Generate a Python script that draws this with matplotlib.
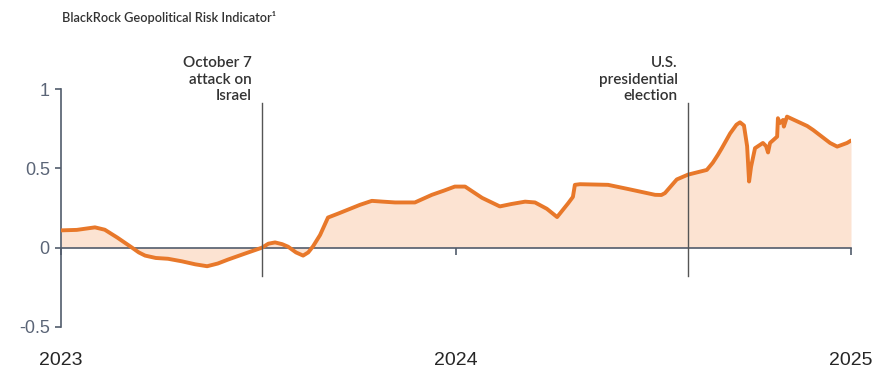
import matplotlib
matplotlib.use('Agg')
import matplotlib.pyplot as plt

# x is position in years since start of 2023 (as laid out on the chart)
pos = [0.0, 0.04, 0.086, 0.111, 0.143, 0.180, 0.197, 0.213, 0.240, 0.271, 0.306, 0.340, 0.370,
       0.397, 0.423, 0.465, 0.509, 0.525, 0.542, 0.560, 0.575, 0.595, 0.613, 0.626, 0.638,
       0.656, 0.676, 0.701, 0.727, 0.757, 0.787, 0.815, 0.846, 0.896, 0.939, 0.970, 0.997,
       1.023, 1.066, 1.111, 1.140, 1.175, 1.200, 1.230, 1.256, 1.284, 1.296, 1.301, 1.314,
       1.385, 1.435, 1.504, 1.520, 1.529, 1.545, 1.559, 1.587, 1.635, 1.650, 1.663, 1.673,
       1.694, 1.710, 1.719, 1.729, 1.737, 1.742, 1.747, 1.757, 1.777, 1.785, 1.790, 1.795,
       1.813, 1.815, 1.820, 1.828, 1.830, 1.838, 1.889, 1.904, 1.947, 1.965, 1.990, 2.0]
gri = [0.109, 0.112, 0.128, 0.113, 0.063, 0.0, -0.03, -0.05, -0.065, -0.07, -0.086, -0.105, -0.117,
       -0.10, -0.075, -0.038, 0.0, 0.025, 0.033, 0.022, 0.006, -0.03, -0.05, -0.03, 0.008,
       0.08, 0.19, 0.214, 0.24, 0.27, 0.295, 0.29, 0.285, 0.285, 0.333, 0.36, 0.385,
       0.385, 0.314, 0.26, 0.275, 0.29, 0.285, 0.245, 0.193, 0.28, 0.32, 0.396, 0.40,
       0.396, 0.37, 0.333, 0.332, 0.344, 0.39, 0.43, 0.46, 0.49, 0.535, 0.585, 0.627,
       0.72, 0.775, 0.79, 0.77, 0.64, 0.417, 0.51, 0.627, 0.66, 0.64, 0.60, 0.66,
       0.70, 0.816, 0.785, 0.805, 0.763, 0.826, 0.767, 0.742, 0.66, 0.637, 0.66, 0.675]

year_pos = [0, 1, 2]
year_labels = ["2023", "2024", "2025"]
events = [(0.509, "October 7\nattack on\nIsrael"), (1.587, "U.S.\npresidential\nelection")]

orange = "#e8782a"
peach = "#fce3d2"
axis_col = "#525c6c"

fig = plt.figure(figsize=(8.86, 3.74), dpi=100)
ax = fig.add_axes([0.0688, 0.1257, 0.8917, 0.6363])

ax.fill_between(pos, gri, 0, color=peach, lw=0, zorder=1)
ax.plot(pos, gri, color=orange, lw=2.8, solid_joinstyle="round", solid_capstyle="round", zorder=4)

ax.set_xlim(0, 2)
ax.set_ylim(-0.5, 1)

for s in ["top", "right"]:
    ax.spines[s].set_visible(False)
ax.spines["bottom"].set_position(("data", 0))
ax.spines["bottom"].set_color(axis_col)
ax.spines["bottom"].set_linewidth(1.2)
ax.spines["bottom"].set_zorder(3)
ax.spines["left"].set_color(axis_col)
ax.spines["left"].set_linewidth(1.2)

ax.set_yticks([-0.5, 0, 0.5, 1])
ax.set_yticklabels(["-0.5", "0", "0.5", "1"])
ax.tick_params(axis="y", direction="out", length=4, width=1.2, color=axis_col,
               labelcolor="#5b6577", labelsize=13, pad=4)
ax.set_xticks(year_pos)
ax.set_xticklabels(year_labels)
ax.tick_params(axis="x", direction="out", length=5, width=1.2, color=axis_col,
               labelcolor="#262626", labelsize=14, pad=70)
for lab in ax.get_xticklabels() + ax.get_yticklabels():
    lab.set_fontfamily("Liberation Sans")

for x, txt in events:
    ax.plot([x, x], [-0.18, 0.91], color="#555555", lw=1, zorder=5)
    ax.text(x - 0.025, 0.91, txt, ha="right", va="bottom", fontsize=11, color="#333333",
            family="Lato", fontweight="semibold", linespacing=1.25)

fig.text(0.070, 0.952, "BlackRock Geopolitical Risk Indicator\u00b9", fontsize=9.2,
         color="#333333", family="Lato", fontweight="semibold", va="center")

plt.savefig("out.png", dpi=100)
plt.close()
